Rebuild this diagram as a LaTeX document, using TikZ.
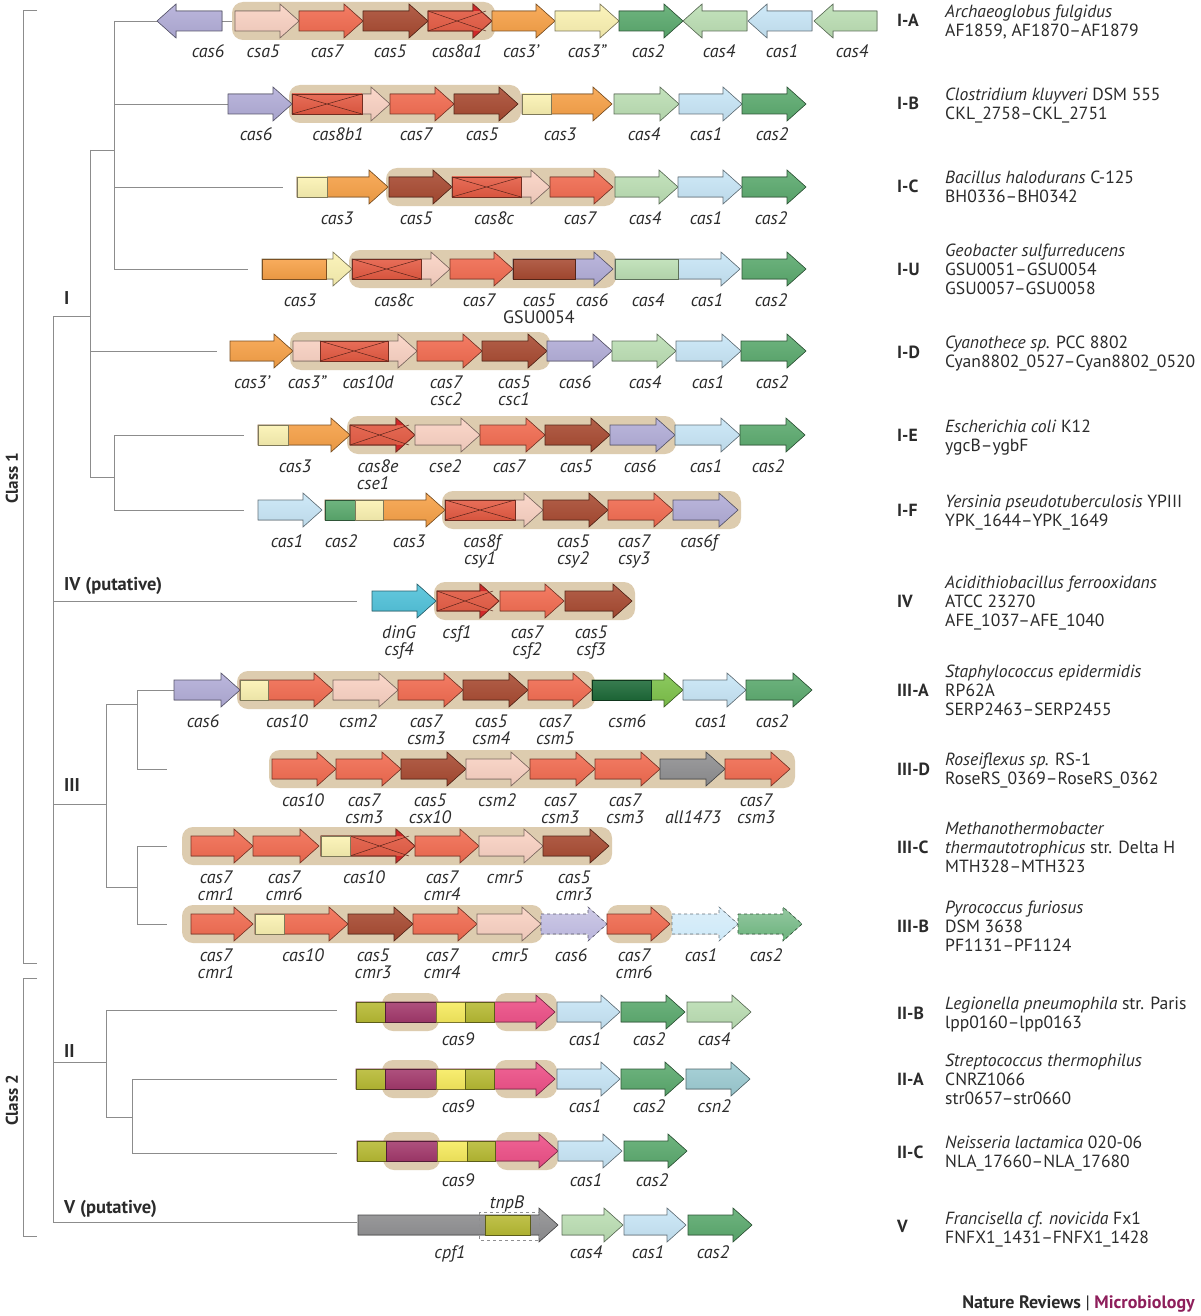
\documentclass[tikz,border=0pt]{standalone}
\usepackage{fontspec}
\setmainfont{PT Sans}
\definecolor{cLav}{HTML}{B2ADD8}
\definecolor{cPink}{HTML}{FAD2C3}
\definecolor{cRed}{HTML}{F26B50}
\definecolor{cBrown}{HTML}{A84A31}
\definecolor{cCross}{HTML}{E45A42}
\definecolor{cCrossD}{HTML}{D0282A}
\definecolor{cOrange}{HTML}{F7A147}
\definecolor{cYellow}{HTML}{FBF2B2}
\definecolor{cGreen}{HTML}{5BAA6E}
\definecolor{cLGreen}{HTML}{BCDFB4}
\definecolor{cBlue}{HTML}{C8E6F7}
\definecolor{cBeige}{HTML}{DDCCAF}
\definecolor{cGray}{HTML}{8F8F91}
\definecolor{cCyan}{HTML}{50C2DA}
\definecolor{cDGreen}{HTML}{1D6A38}
\definecolor{cLime}{HTML}{7DC24A}
\definecolor{cTeal}{HTML}{9DCCD3}
\definecolor{cOlive}{HTML}{B7BA33}
\definecolor{cMag}{HTML}{A3396C}
\definecolor{cYel}{HTML}{F7EB5E}
\definecolor{cHot}{HTML}{EE4F87}
\definecolor{cPlum}{HTML}{8E1E5B}
\definecolor{cTree}{HTML}{8C8C8C}
\definecolor{cText}{HTML}{2B2B2B}
\newcounter{nc}
\newcommand\RA[3]{(#1,#3-10) -- (#2-19,#3-10) -- (#2-19,#3-17) -- (#2,#3) -- (#2-19,#3+17) -- (#2-19,#3+10) -- (#1,#3+10) -- cycle}
\newcommand\LA[3]{(#2,#3-10) -- (#1+19,#3-10) -- (#1+19,#3-17) -- (#1,#3) -- (#1+19,#3+17) -- (#1+19,#3+10) -- (#2,#3+10) -- cycle}
\newcommand\gene[4]{\filldraw[genestyle, top color=#4!88!white, bottom color=#4!94!black, draw=#4!50!black] \RA{#1}{#2}{#3};}
\newcommand\lgene[4]{\filldraw[genestyle, top color=#4!88!white, bottom color=#4!94!black, draw=#4!50!black] \LA{#1}{#2}{#3};}
\newcommand\dgene[4]{\filldraw[genestyle, dashed, top color=#4!65!white, bottom color=#4!90!white, draw=#4!50!black] \RA{#1}{#2}{#3};}
\newcommand\seg[4]{\filldraw[genestyle, top color=#4!88!white, bottom color=#4!94!black, draw=#4!50!black] (#1,#3-10) rectangle (#2,#3+10);}
\newcommand\xseg[3]{\filldraw[genestyle, top color=cCross!88!white, bottom color=cCross!94!black, draw=cCross!50!black] (#1,#3-10) rectangle (#2,#3+10);
  \draw[xline] (#1,#3-10) -- (#2,#3+10) (#1,#3+10) -- (#2,#3-10);}
\newcommand\xgene[4]{\filldraw[genestyle, top color=cCross!88!white, bottom color=cCross!94!black, draw=cCross!50!black] \RA{#1}{#2}{#3};
  \fill[cCrossD] (#2-19,#3-17) -- (#2-5,#3-4) -- (#2-12,#3-10) -- (#2-19,#3-10) -- cycle;
  \fill[cCrossD] (#2-19,#3+17) -- (#2-5,#3+4) -- (#2-12,#3+10) -- (#2-19,#3+10) -- cycle;
  \draw[xline] (#4,#3-10) -- (#2-6,#3+10) (#4,#3+10) -- (#2-6,#3-10);
  \draw[genestyle, draw=cCross!50!black] \RA{#1}{#2}{#3};}
\newcommand\bbox[3]{\fill[cBeige, rounded corners=11pt] (#1-3,#3-19) rectangle (#2+3,#3+19);}
\newcommand\gl[3]{\stepcounter{nc}\node[glab] (g\arabic{nc}) at (#1,#2+37) {#3};}
\newcommand\glb[3]{\stepcounter{nc}\node[glab] (g\arabic{nc}) at (#1,#2+54) {#3};}
\newcommand\spl[2]{\stepcounter{nc}\node[spec] (s\arabic{nc}) at (945,#1) {#2};}
\newcommand\typ[2]{\stepcounter{nc}\node[typel] (t\arabic{nc}) at (897,#1+6) {#2};}
\begin{document}
\begin{tikzpicture}[x=1pt,y=-1pt,
  genestyle/.style={line width=0.6pt},
  xline/.style={draw=cCross!40!black, line width=0.5pt},
  tree/.style={draw=cTree, line width=0.9pt},
  glab/.style={font=\fontsize{18}{18}\selectfont\itshape, text=cText, anchor=base, inner sep=0pt},
  spec/.style={font=\fontsize{17.6}{19}\selectfont, text=cText, anchor=base west, inner sep=0pt},
  typel/.style={font=\fontsize{17.6}{19}\selectfont\bfseries, text=cText, anchor=base west, inner sep=0pt},
  treel/.style={font=\fontsize{18.5}{19}\selectfont\bfseries, text=cText, anchor=base west, inner sep=0pt}]
\useasboundingbox[fill=white] (0,0) rectangle (1200,1316);

% ---------------- tree ----------------
\draw[tree] (37,10) -- (23,10) -- (23,963) -- (37,963);
\draw[tree] (37,978) -- (23,978) -- (23,1236) -- (37,1236);
\node[font=\fontsize{17}{19}\selectfont\bfseries, text=cText, rotate=90] (c1) at (12,478) {Class 1};
\node[font=\fontsize{17}{19}\selectfont\bfseries, text=cText, rotate=90] (c2) at (12,1100) {Class 2};
\coordinate (rIA) at (158,21);
\coordinate (rIB) at (228,104);
\coordinate (rIC) at (283,187);
\coordinate (rIU) at (248,269);
\coordinate (rID) at (217,351);
\coordinate (rIE) at (244,435);
\coordinate (rIF) at (244,510);
\coordinate (rIV) at (357,601);
\coordinate (rIIIA) at (174,690);
\coordinate (rIIID) at (167,769);
\coordinate (rIIIC) at (167,846);
\coordinate (rIIIB) at (167,924);
\coordinate (rIIB) at (337,1010);
\coordinate (rIIA) at (337,1079);
\coordinate (rIIC) at (337,1153);
\coordinate (rV) at (357,1222);
\draw[tree] (53,316) -- (53,1222);
\draw[tree] (53,316) -- (90,316) (90,150) -- (90,477) (90,150) -- (114,150) (114,21) -- (114,269);
\draw[tree] (114,21) -- (rIA) (114,104) -- (rIB) (114,187) -- (rIC) (114,269) -- (rIU);
\draw[tree] (90,351) -- (rID) (90,477) -- (114,477) (114,435) -- (114,510) (114,435) -- (rIE) (114,510) -- (rIF);
\draw[tree] (53,601) -- (rIV);
\draw[tree] (53,804) -- (106,804) (106,704) -- (106,887) (106,704) -- (137,704) (137,690) -- (137,769)
  (137,690) -- (rIIIA) (137,769) -- (rIIID) (106,887) -- (137,887) (137,846) -- (137,924)
  (137,846) -- (rIIIC) (137,924) -- (rIIIB);
\draw[tree] (53,1062) -- (106,1062) (106,1010) -- (106,1117) (106,1010) -- (rIIB) (106,1117) -- (132,1117)
  (132,1079) -- (132,1153) (132,1079) -- (rIIA) (132,1153) -- (rIIC);
\draw[tree] (53,1222) -- (rV);
\node[treel] (lI) at (64,304) {I};
\node[treel] (lIV) at (64,590) {IV (putative)};
\node[treel] (lIII) at (64,791) {III};
\node[treel] (lII) at (64,1057) {II};
\node[treel] (lV) at (64,1213) {V (putative)};

% ---------------- I-A ----------------
\draw[tree] (222,21) -- (236,21);
\bbox{235}{492}{21}
\lgene{157}{222}{21}{cLav}
\gene{235}{299}{21}{cPink}
\gene{299}{363}{21}{cRed}
\gene{363}{428}{21}{cBrown}
\xgene{428}{492}{21}{428}
\gene{492}{555}{21}{cOrange}
\gene{555}{619}{21}{cYellow}
\gene{619}{683}{21}{cGreen}
\lgene{683}{747}{21}{cLGreen}
\lgene{748}{812}{21}{cBlue}
\lgene{814}{877}{21}{cLGreen}
\gl{208}{21}{cas6}\gl{263}{21}{csa5}\gl{327}{21}{cas7}\gl{390}{21}{cas5}\gl{457}{21}{cas8a1}
\gl{521}{21}{cas3'}\gl{587}{21}{cas3''}\gl{648}{21}{cas2}\gl{719}{21}{cas4}\gl{782}{21}{cas1}\gl{852}{21}{cas4}

% ---------------- I-B ----------------
\bbox{292}{518}{104}
\gene{228}{292}{104}{cLav}
\gene{292}{390}{104}{cPink}\xseg{292}{362}{104}
\gene{390}{454}{104}{cRed}
\gene{454}{518}{104}{cBrown}
\gene{522}{612}{104}{cOrange}\seg{522}{551}{104}{cYellow}
\gene{614}{679}{104}{cLGreen}
\gene{679}{742}{104}{cBlue}
\gene{742}{806}{104}{cGreen}
\gl{256}{104}{cas6}\gl{338}{104}{cas8b1}\gl{416}{104}{cas7}\gl{482}{104}{cas5}\gl{560}{104}{cas3}
\gl{644}{104}{cas4}\gl{706}{104}{cas1}\gl{772}{104}{cas2}

% ---------------- I-C ----------------
\bbox{389}{613}{187}
\gene{297}{388}{187}{cOrange}\seg{297}{327}{187}{cYellow}
\gene{389}{452}{187}{cBrown}
\gene{452}{550}{187}{cPink}\xseg{452}{521}{187}
\gene{550}{613}{187}{cRed}
\gene{615}{678}{187}{cLGreen}
\gene{678}{742}{187}{cBlue}
\gene{742}{806}{187}{cGreen}
\gl{337}{187}{cas3}\gl{416}{187}{cas5}\gl{494}{187}{cas8c}\gl{580}{187}{cas7}
\gl{645}{187}{cas4}\gl{706}{187}{cas1}\gl{771}{187}{cas2}

% ---------------- I-U ----------------
\bbox{352}{613}{269}
\gene{262}{352}{269}{cYellow}\seg{262}{326}{269}{cOrange}
\gene{352}{450}{269}{cPink}\xseg{352}{421}{269}
\gene{450}{513}{269}{cRed}
\gene{513}{613}{269}{cLav}\seg{513}{575}{269}{cBrown}
\gene{615}{740}{269}{cBlue}\seg{615}{678}{269}{cLGreen}
\gene{742}{806}{269}{cGreen}
\gl{300}{269}{cas3}\gl{394}{269}{cas8c}\gl{479}{269}{cas7}\gl{539}{269}{cas5}\gl{592}{269}{cas6}
\glb{539}{269}{\upshape GSU0054}
\gl{648}{269}{cas4}\gl{707}{269}{cas1}\gl{771}{269}{cas2}

% ---------------- I-D ----------------
\bbox{293}{547}{351}
\gene{230}{293}{351}{cOrange}
\gene{293}{417}{351}{cPink}\xseg{320}{388}{351}
\gene{417}{482}{351}{cRed}
\gene{482}{547}{351}{cBrown}
\gene{547}{612}{351}{cLav}
\gene{612}{676}{351}{cLGreen}
\gene{676}{741}{351}{cBlue}
\gene{741}{806}{351}{cGreen}
\gl{252}{351}{cas3'}\gl{307}{351}{cas3''}\gl{368}{351}{cas10d}\gl{446}{351}{cas7}\glb{446}{351}{csc2}
\gl{514}{351}{cas5}\glb{514}{351}{csc1}\gl{575}{351}{cas6}\gl{645}{351}{cas4}\gl{708}{351}{cas1}\gl{772}{351}{cas2}

% ---------------- I-E ----------------
\bbox{350}{673}{435}
\gene{258}{350}{435}{cOrange}\seg{258}{288}{435}{cYellow}
\xgene{350}{415}{435}{350}
\gene{415}{480}{435}{cPink}
\gene{480}{545}{435}{cRed}
\gene{545}{610}{435}{cBrown}
\gene{610}{675}{435}{cLav}
\gene{675}{740}{435}{cBlue}
\gene{740}{805}{435}{cGreen}
\gl{295}{435}{cas3}\gl{378}{435}{cas8e}\glb{373}{435}{cse1}\gl{445}{435}{cse2}\gl{509}{435}{cas7}
\gl{576}{435}{cas5}\gl{640}{435}{cas6}\gl{706}{435}{cas1}\gl{768}{435}{cas2}

% ---------------- I-F ----------------
\bbox{445}{738}{510}
\gene{258}{322}{510}{cBlue}
\gene{325}{445}{510}{cOrange}\seg{325}{355}{510}{cGreen}\seg{355}{383}{510}{cYellow}
\gene{445}{543}{510}{cPink}\xseg{445}{515}{510}
\gene{543}{608}{510}{cBrown}
\gene{608}{673}{510}{cRed}
\gene{673}{738}{510}{cLav}
\gl{287}{510}{cas1}\gl{341}{510}{cas2}\gl{409}{510}{cas3}\gl{482}{510}{cas8f}\glb{480}{510}{csy1}
\gl{573}{510}{cas5}\glb{573}{510}{csy2}\gl{634}{510}{cas7}\glb{634}{510}{csy3}\gl{699}{510}{cas6f}

% ---------------- IV ----------------
\bbox{437}{632}{601}
\gene{372}{436}{601}{cCyan}
\xgene{437}{499}{601}{437}
\gene{500}{564}{601}{cRed}
\gene{565}{632}{601}{cBrown}
\gl{399}{601}{dinG}\glb{399}{601}{csf4}\gl{457}{601}{csf1}\gl{527}{601}{cas7}\glb{527}{601}{csf2}
\gl{591}{601}{cas5}\glb{591}{601}{csf3}

% ---------------- III-A ----------------
\bbox{240}{592}{690}
\gene{174}{240}{690}{cLav}
\gene{240}{333}{690}{cRed}\seg{240}{268}{690}{cYellow}
\gene{333}{398}{690}{cPink}
\gene{398}{463}{690}{cRed}
\gene{463}{528}{690}{cBrown}
\gene{528}{592}{690}{cRed}
\gene{592}{683}{690}{cLime}\seg{592}{651}{690}{cDGreen}
\gene{683}{746}{690}{cBlue}
\gene{746}{812}{690}{cGreen}
\gl{203}{690}{cas6}\gl{287}{690}{cas10}\gl{358}{690}{csm2}\gl{426}{690}{cas7}\glb{426}{690}{csm3}
\gl{491}{690}{cas5}\glb{491}{690}{csm4}\gl{555}{690}{cas7}\glb{555}{690}{csm5}\gl{627}{690}{csm6}
\gl{711}{690}{cas1}\gl{772}{690}{cas2}

% ---------------- III-D ----------------
\bbox{272}{792}{769}
\gene{272}{336}{769}{cRed}
\gene{336}{401}{769}{cRed}
\gene{401}{466}{769}{cBrown}
\gene{466}{530}{769}{cPink}
\gene{530}{595}{769}{cRed}
\gene{595}{660}{769}{cRed}
\gene{660}{725}{769}{cGray}
\gene{725}{790}{769}{cRed}
\gl{303}{769}{cas10}\gl{364}{769}{cas7}\glb{364}{769}{csm3}\gl{430}{769}{cas5}\glb{430}{769}{csx10}
\gl{497}{769}{csm2}\gl{560}{769}{cas7}\glb{560}{769}{csm3}\gl{625}{769}{cas7}\glb{625}{769}{csm3}
\glb{693}{769}{all1473}\gl{756}{769}{cas7}\glb{756}{769}{csm3}

% ---------------- III-C ----------------
\bbox{185}{609}{846}
\gene{191}{253}{846}{cRed}
\gene{253}{319}{846}{cRed}
\xgene{321}{415}{846}{350}\seg{321}{350}{846}{cYellow}
\gene{415}{479}{846}{cRed}
\gene{479}{543}{846}{cPink}
\gene{543}{609}{846}{cBrown}
\gl{216}{846}{cas7}\glb{216}{846}{cmr1}\gl{284}{846}{cas7}\glb{284}{846}{cmr6}\gl{364}{846}{cas10}
\gl{442}{846}{cas7}\glb{442}{846}{cmr4}\gl{505}{846}{cmr5}\gl{574}{846}{cas5}\glb{574}{846}{cmr3}

% ---------------- III-B ----------------
\bbox{185}{540}{924}
\bbox{610}{669}{924}
\gene{191}{253}{924}{cRed}
\gene{255}{348}{924}{cRed}\seg{255}{284}{924}{cYellow}
\gene{348}{413}{924}{cBrown}
\gene{413}{477}{924}{cRed}
\gene{477}{541}{924}{cPink}
\dgene{541}{607}{924}{cLav}
\gene{607}{670}{924}{cRed}
\dgene{672}{738}{924}{cBlue}
\dgene{738}{802}{924}{cGreen}
\gl{216}{924}{cas7}\glb{216}{924}{cmr1}\gl{303}{924}{cas10}\gl{373}{924}{cas5}\glb{373}{924}{cmr3}
\gl{442}{924}{cas7}\glb{442}{924}{cmr4}\gl{510}{924}{cmr5}\gl{571}{924}{cas6}\gl{634}{924}{cas7}\glb{634}{924}{cmr6}
\gl{701}{924}{cas1}\gl{766}{924}{cas2}

% ---------------- II-B ----------------
\bbox{385}{436}{1012}\bbox{498}{554}{1012}
\gene{356}{555}{1012}{cHot}\seg{356}{385}{1012}{cOlive}\seg{385}{436}{1012}{cMag}\seg{436}{465}{1012}{cYel}\seg{465}{494}{1012}{cOlive}
\gene{557}{620}{1012}{cBlue}
\gene{621}{685}{1012}{cGreen}
\gene{687}{751}{1012}{cLGreen}
\gl{458}{1008}{cas9}\gl{585}{1008}{cas1}\gl{649}{1008}{cas2}\gl{714}{1008}{cas4}

% ---------------- II-A ----------------
\bbox{385}{436}{1079}\bbox{498}{554}{1079}
\gene{356}{555}{1079}{cHot}\seg{356}{385}{1079}{cOlive}\seg{385}{436}{1079}{cMag}\seg{436}{465}{1079}{cYel}\seg{465}{494}{1079}{cOlive}
\gene{557}{620}{1079}{cBlue}
\gene{621}{684}{1079}{cGreen}
\gene{686}{750}{1079}{cTeal}
\gl{458}{1075}{cas9}\gl{585}{1075}{cas1}\gl{649}{1075}{cas2}\gl{714}{1075}{csn2}

% ---------------- II-C ----------------
\bbox{386}{437}{1151}\bbox{499}{555}{1151}
\gene{357}{558}{1151}{cHot}\seg{357}{386}{1151}{cOlive}\seg{386}{437}{1151}{cMag}\seg{437}{467}{1151}{cYel}\seg{467}{495}{1151}{cOlive}
\gene{558}{622}{1151}{cBlue}
\gene{624}{687}{1151}{cGreen}
\gl{458}{1149}{cas9}\gl{586}{1149}{cas1}\gl{652}{1149}{cas2}

% ---------------- V ----------------
\gene{358}{558}{1225}{cGray}\seg{485}{530}{1225}{cOlive}
\draw[dashed, draw=cGray, line width=0.7pt] (479,1212) rectangle (539,1240);
\gene{562}{623}{1225}{cLGreen}
\gene{624}{686}{1225}{cBlue}
\gene{688}{752}{1225}{cGreen}
\stepcounter{nc}\node[glab] (g\arabic{nc}) at (507,1208) {tnpB};
\gl{450}{1221}{cpf1}\gl{586}{1221}{cas4}\gl{648}{1221}{cas1}\gl{713}{1221}{cas2}

% ---------------- right-hand labels ----------------
\typ{21}{I-A}\spl{17.5}{\textit{Archaeoglobus fulgidus}}\spl{36.5}{AF1859, AF1870--AF1879}
\typ{104}{I-B}\spl{100.5}{\textit{Clostridium kluyveri} DSM 555}\spl{119.5}{CKL\_2758--CKL\_2751}
\typ{187}{I-C}\spl{183.5}{\textit{Bacillus halodurans} C-125}\spl{202.5}{BH0336--BH0342}
\typ{269}{I-U}\spl{256}{\textit{Geobacter sulfurreducens}}\spl{275}{GSU0051--GSU0054}\spl{294}{GSU0057--GSU0058}
\typ{352}{I-D}\spl{348}{\textit{Cyanothece sp.} PCC 8802}\spl{367}{Cyan8802\_0527--Cyan8802\_0520}
\typ{435}{I-E}\spl{432}{\textit{Escherichia coli} K12}\spl{451}{ygcB--ygbF}
\typ{510}{I-F}\spl{507}{\textit{Yersinia pseudotuberculosis} YPIII}\spl{526}{YPK\_1644--YPK\_1649}
\typ{601}{IV}\spl{588}{\textit{Acidithiobacillus ferrooxidans}}\spl{607}{ATCC 23270}\spl{626}{AFE\_1037--AFE\_1040}
\typ{690}{III-A}\spl{677}{\textit{Staphylococcus epidermidis}}\spl{696}{RP62A}\spl{715}{SERP2463--SERP2455}
\typ{769}{III-D}\spl{765.5}{\textit{Roseiflexus sp.} RS-1}\spl{784.5}{RoseRS\_0369--RoseRS\_0362}
\typ{847}{III-C}\spl{834}{\textit{Methanothermobacter}}\spl{853}{\textit{thermautotrophicus} str. Delta H}\spl{872}{MTH328--MTH323}
\typ{926}{III-B}\spl{913}{\textit{Pyrococcus furiosus}}\spl{932}{DSM 3638}\spl{951}{PF1131--PF1124}
\typ{1013}{II-B}\spl{1009}{\textit{Legionella pneumophila} str. Paris}\spl{1028}{lpp0160--lpp0163}
\typ{1079}{II-A}\spl{1066}{\textit{Streptococcus thermophilus}}\spl{1085}{CNRZ1066}\spl{1104}{str0657--str0660}
\typ{1152}{II-C}\spl{1148}{\textit{Neisseria lactamica} 020-06}\spl{1167}{NLA\_17660--NLA\_17680}
\typ{1226}{V}\spl{1224}{\textit{Francisella cf. novicida} Fx1}\spl{1243}{FNFX1\_1431--FNFX1\_1428}

\node[anchor=base east, inner sep=0pt, font=\fontsize{18}{20}\selectfont\bfseries, text=cText] (nr) at (1195,1308)
  {Nature Reviews {\mdseries|} \textcolor{cPlum}{Microbiology}};
\end{tikzpicture}
\end{document}
